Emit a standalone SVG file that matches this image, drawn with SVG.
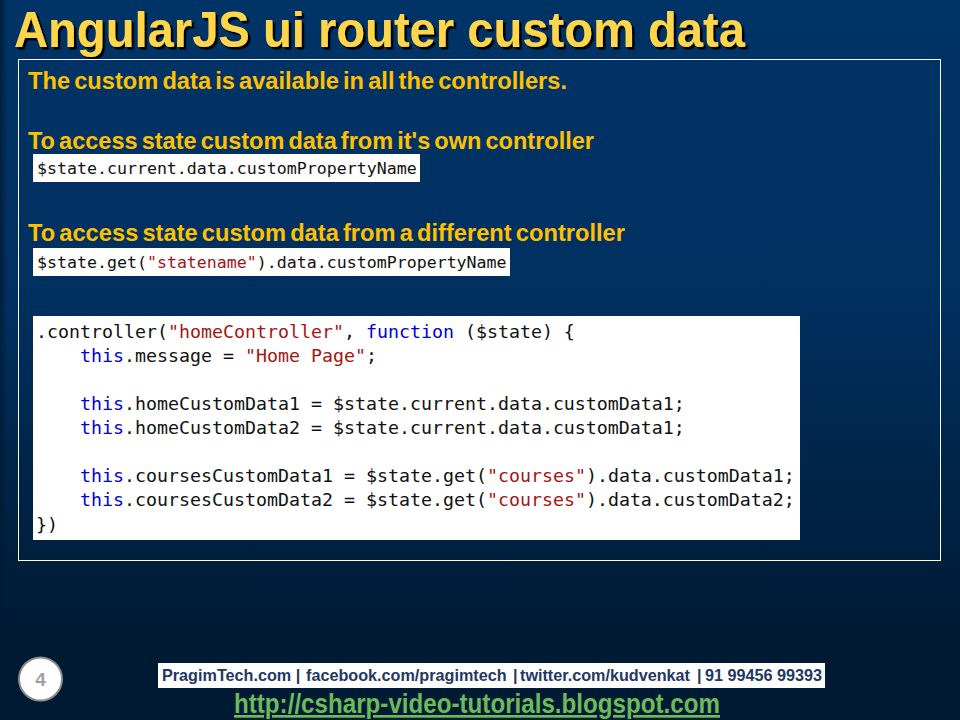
<svg xmlns="http://www.w3.org/2000/svg" width="960" height="720" viewBox="0 0 960 720">
<style>
.title{font:bold 50px "Liberation Sans",Arial,sans-serif}
.h{font:bold 24px "Liberation Sans",Arial,sans-serif;fill:#ffc000;word-spacing:-2.5px}
.m{font-family:"DejaVu Sans Mono","Liberation Mono",monospace;fill:#111;white-space:pre}
.s{font-size:16.6px}
.c{font-size:18.27px}
.k{fill:#0000e0}
.q{fill:#a31515}
</style>
<defs>
<linearGradient id="bg" x1="0" y1="0" x2="0" y2="1">
<stop offset="0" stop-color="#003366"/>
<stop offset="0.42" stop-color="#003060"/>
<stop offset="0.88" stop-color="#001a33"/>
<stop offset="1" stop-color="#001a33"/>
</linearGradient>
<linearGradient id="edge" x1="0" y1="0" x2="1" y2="0">
<stop offset="0" stop-color="#001a33" stop-opacity="0.8"/>
<stop offset="1" stop-color="#001a33" stop-opacity="0"/>
</linearGradient>
<filter id="shadow" x="-2%" y="-10%" width="104%" height="125%">
<feDropShadow dx="2.5" dy="2.5" stdDeviation="0.6" flood-color="#050505"/>
</filter>
</defs>
<rect width="960" height="720" fill="url(#bg)"/>
<rect width="7" height="720" fill="url(#edge)"/>
<text class="title" x="14" y="47" fill="#ffd54a" textLength="731" lengthAdjust="spacingAndGlyphs" filter="url(#shadow)">AngularJS ui router custom data</text>
<rect x="18.5" y="59.5" width="922" height="501" fill="none" stroke="#fff"/>
<text class="h" x="28" y="89" textLength="539" lengthAdjust="spacingAndGlyphs">The custom data is available in all the controllers.</text>
<text class="h" x="28" y="149" textLength="566" lengthAdjust="spacingAndGlyphs">To access state custom data from it's own controller</text>
<rect x="33" y="154" width="387" height="28" fill="#fff"/>
<text class="m s" x="37" y="174">$state.current.data.customPropertyName</text>
<text class="h" x="28" y="241" textLength="597" lengthAdjust="spacingAndGlyphs">To access state custom data from a different controller</text>
<rect x="33" y="248" width="477" height="28" fill="#fff"/>
<text class="m s" x="37" y="268">$state.get(<tspan class="q">"statename"</tspan>).data.customPropertyName</text>
<rect x="33" y="316" width="767" height="224" fill="#fff"/>
<g class="m c">
<text x="36" y="338">.controller(<tspan class="q">"homeController"</tspan>, <tspan class="k">function</tspan> ($state) {</text>
<text x="80" y="362"><tspan class="k">this</tspan>.message = <tspan class="q">"Home Page"</tspan>;</text>
<text x="80" y="410"><tspan class="k">this</tspan>.homeCustomData1 = $state.current.data.customData1;</text>
<text x="80" y="434"><tspan class="k">this</tspan>.homeCustomData2 = $state.current.data.customData1;</text>
<text x="80" y="482"><tspan class="k">this</tspan>.coursesCustomData1 = $state.get(<tspan class="q">"courses"</tspan>).data.customData1;</text>
<text x="80" y="506"><tspan class="k">this</tspan>.coursesCustomData2 = $state.get(<tspan class="q">"courses"</tspan>).data.customData2;</text>
<text x="36" y="531">})</text>
</g>
<circle cx="40.5" cy="679" r="21.5" fill="#fff" stroke="#8c8c8c" stroke-width="2"/>
<text x="40.5" y="686" text-anchor="middle" font-family="Liberation Sans,Arial,sans-serif" font-weight="bold" font-size="19" fill="#a0a0a0">4</text>
<rect x="158" y="663" width="667" height="25" fill="#fff"/>
<text x="162" y="681" font-family="Liberation Sans,Arial,sans-serif" font-weight="bold" font-size="16.2" fill="#1f3864">PragimTech.com |<tspan x="306">facebook.com/pragimtech</tspan><tspan x="513">|</tspan><tspan x="520">twitter.com/kudvenkat</tspan><tspan x="697">|</tspan><tspan x="705">91 99456 99393</tspan></text>
<text x="234" y="713" font-family="Liberation Sans,Arial,sans-serif" font-weight="bold" font-size="27" fill="#6cbb5a" textLength="486" lengthAdjust="spacingAndGlyphs" text-decoration="underline">http://csharp-video-tutorials.blogspot.com</text>
</svg>
